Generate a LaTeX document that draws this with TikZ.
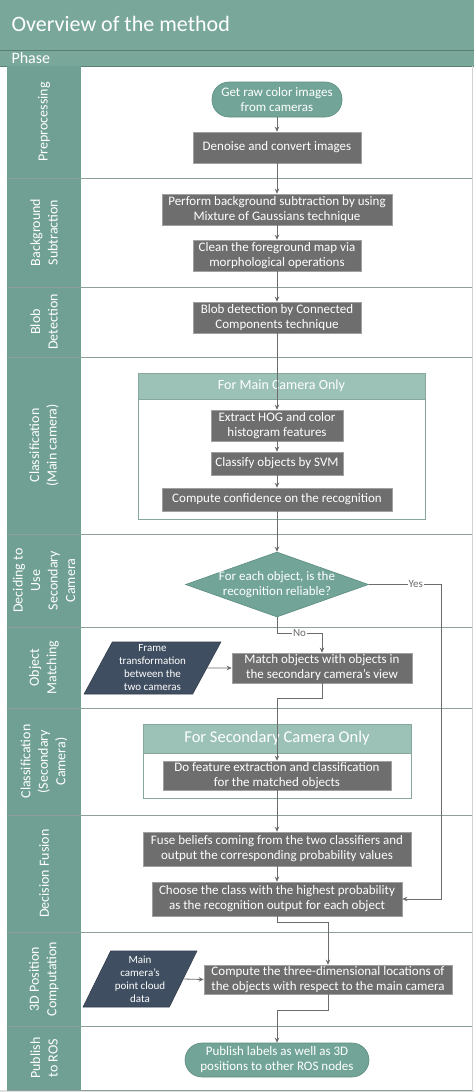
\documentclass[tikz,border=0pt]{standalone}
\usepackage{fontspec}
\setmainfont{Carlito}
\usetikzlibrary{shapes.geometric,arrows.meta}
\definecolor{titleteal}{HTML}{79A89B}
\definecolor{laneteal}{HTML}{70A094}
\definecolor{sepline}{HTML}{8E9E9B}
\definecolor{boxgray}{HTML}{6E6E6E}
\definecolor{boxborder}{HTML}{A0A0A0}
\definecolor{termteal}{HTML}{72A598}
\definecolor{termborder}{HTML}{5C8D80}
\definecolor{headteal}{HTML}{9CC2B7}
\definecolor{contborder}{HTML}{86A69E}
\definecolor{dataslate}{HTML}{3F4E60}
\definecolor{arrowgray}{HTML}{6C6C6C}
\begin{document}
\begin{tikzpicture}[x=1pt,y=-1pt,
  proc/.style={draw=boxborder, fill=boxgray, text=white, align=center,
    font=\fontsize{13}{15}\selectfont, inner sep=1pt, line width=0.6pt},
  term/.style={proc, fill=termteal, draw=termborder, rounded corners=17pt},
  datanode/.style={trapezium, trapezium left angle=63, trapezium right angle=117,
    trapezium stretches=true, fill=dataslate, draw=dataslate!80!black, text=white,
    align=center, font=\fontsize{11}{13}\selectfont, inner sep=0pt, line width=0.6pt},
  lanelbl/.style={text=white, align=center, font=\fontsize{14}{17.5}\selectfont, rotate=90},
  cont/.style={draw=contborder, fill=white, line width=0.8pt},
  conthead/.style={draw=contborder, fill=headteal, text=white, line width=0.8pt, anchor=north},
  flow/.style={draw=arrowgray, line width=0.8pt, -{Stealth[length=5pt,width=4.5pt]}},
  flowlbl/.style={fill=white, text=arrowgray, font=\fontsize{11}{13}\selectfont, inner sep=1pt}
]
\useasboundingbox (0,0) rectangle (474,1092);
\fill[white] (0,0) rectangle (474,1092);
% title bars
\fill[titleteal] (0,0) rectangle (474,66);
\draw[titleteal!75!black, line width=0.8pt] (0,50) -- (474,50);
\draw[titleteal!75!black, line width=0.8pt] (0,66) -- (474,66);
\node[anchor=west, text=white, font=\fontsize{22}{26}\selectfont] (title) at (8,24) {Overview of the method};
\node[anchor=west, text=white, font=\fontsize{16}{19}\selectfont] (phase) at (8,58) {Phase};
% lane column
\fill[laneteal] (7,66) rectangle (81,1090);
\fill[gray!25] (0,1090) rectangle (474,1092);
\draw[gray!35, line width=1pt] (472,66) -- (472,1090);
\foreach \yy in {178,287,357,534,627,708,815,932,1026,1090}
  \draw[sepline, line width=1pt] (7,\yy) -- (472,\yy);
\node[lanelbl] (lane1) at (44,122) {Preprocessing};
\node[lanelbl] (lane2) at (44,232.5) {Background\\Subtraction};
\node[lanelbl] (lane3) at (44,322) {Blob\\Detection};
\node[lanelbl] (lane4) at (44,445.5) {Classification\\(Main camera)};
\node[lanelbl] (lane5) at (44,580.5) {Deciding to\\Use\\Secondary\\Camera};
\node[lanelbl] (lane6) at (44,667.5) {Object\\Matching};
\node[lanelbl] (lane7) at (44,761.5) {Classification\\(Secondary\\Camera)};
\node[lanelbl] (lane8) at (44,873.5) {Decision Fusion};
\node[lanelbl] (lane9) at (44,979) {3D Position\\Computation};
\node[lanelbl] (lane10) at (44,1058) {Publish\\to ROS};
% containers
\node[cont, minimum width=287, minimum height=146] (maincont) at (281.5,446) {};
\node[conthead, minimum width=287, minimum height=26, font=\fontsize{14}{17}\selectfont] (mainhead) at (maincont.north) {For Main Camera Only};
\node[cont, minimum width=268, minimum height=74] (seccont) at (277,761) {};
\node[conthead, minimum width=268, minimum height=29, font=\fontsize{16.5}{19}\selectfont] (sechead) at (seccont.north) {For Secondary Camera Only};
% process nodes
\node[term, minimum width=130, minimum height=35] (start) at (277,99.5) {Get raw color images\\from cameras};
\node[proc, minimum width=168, minimum height=31] (denoise) at (277,147.5) {Denoise and convert images};
\node[proc, minimum width=230, minimum height=31] (bgsub) at (277,209.5) {Perform background subtraction by using\\Mixture of Gaussians technique};
\node[proc, minimum width=168, minimum height=31] (clean) at (277,255.5) {Clean the foreground map via\\morphological operations};
\node[proc, minimum width=168, minimum height=31] (blob) at (277,317.5) {Blob detection by Connected\\Components technique};
\node[proc, minimum width=132, minimum height=31] (extract) at (277,425.5) {Extract HOG and color\\histogram features};
\node[proc, minimum width=132, minimum height=23] (classify) at (277,463.5) {Classify objects by SVM};
\node[proc, minimum width=230, minimum height=23] (conf) at (277,499.5) {Compute confidence on the recognition};
\node[diamond, fill=termteal, draw=termborder, line width=0.6pt, minimum width=183, minimum height=65, inner sep=0pt] (dec) at (277,584.5) {};
\node[text=white, align=center, font=\fontsize{13}{15}\selectfont] (dectext) at (dec.center) {For each object, is the\\recognition reliable?};
\node[datanode, minimum width=137, minimum height=52] (frame) at (152.5,668) {Frame\\transformation\\between the\\two cameras};
\node[proc, minimum width=180, minimum height=30] (match) at (322,668) {Match objects with objects in\\the secondary camera’s view};
\node[proc, minimum width=228, minimum height=29] (dofeat) at (277,775.5) {Do feature extraction and classification\\for the matched objects};
\node[proc, minimum width=268, minimum height=34] (fuse) at (277,849) {Fuse beliefs coming from the two classifiers and\\output the corresponding probability values};
\node[proc, minimum width=250, minimum height=34] (choose) at (277,899) {Choose the class with the highest probability\\as the recognition output for each object};
\node[datanode, minimum width=114, minimum height=56] (cloud) at (140,979) {Main\\camera’s\\point cloud\\data};
\node[proc, minimum width=248, minimum height=29] (compute) at (328,979.5) {Compute the three-dimensional locations of\\the objects with respect to the main camera};
\node[term, minimum width=184, minimum height=34] (publish) at (277,1060) {Publish labels as well as 3D\\positions to other ROS nodes};
% connectors
\draw[flow] (start) -- (denoise);
\draw[flow] (denoise) -- (bgsub);
\draw[flow] (bgsub) -- (clean);
\draw[flow] (clean) -- (blob);
\draw[flow] (blob) -- (extract);
\draw[flow] (extract) -- (classify);
\draw[flow] (classify) -- (conf);
\draw[flow] (conf) -- (dec);
\draw[flow] (dec.east) -- (441,584.5) node[flowlbl, pos=0.65] {Yes} |- (choose.east);
\draw[flow] (dec.south) -- (277,633) -- node[flowlbl, pos=0.5] {No} (322,633) -- (match.north);
\draw[flow] (frame.east) -- (match.west);
\draw[flow] (match.south) -- (322,698) -- (277,698) -- (dofeat.north);
\draw[flow] (dofeat) -- (fuse);
\draw[flow] (fuse) -- (choose);
\draw[flow] (choose.south) -- (277,922) -- (328,922) -- (compute.north);
\draw[flow] (cloud.east) -- (compute.west);
\draw[flow] (compute.south) -- (328,1010) -- (277,1010) -- (publish.north);
\end{tikzpicture}
\end{document}
